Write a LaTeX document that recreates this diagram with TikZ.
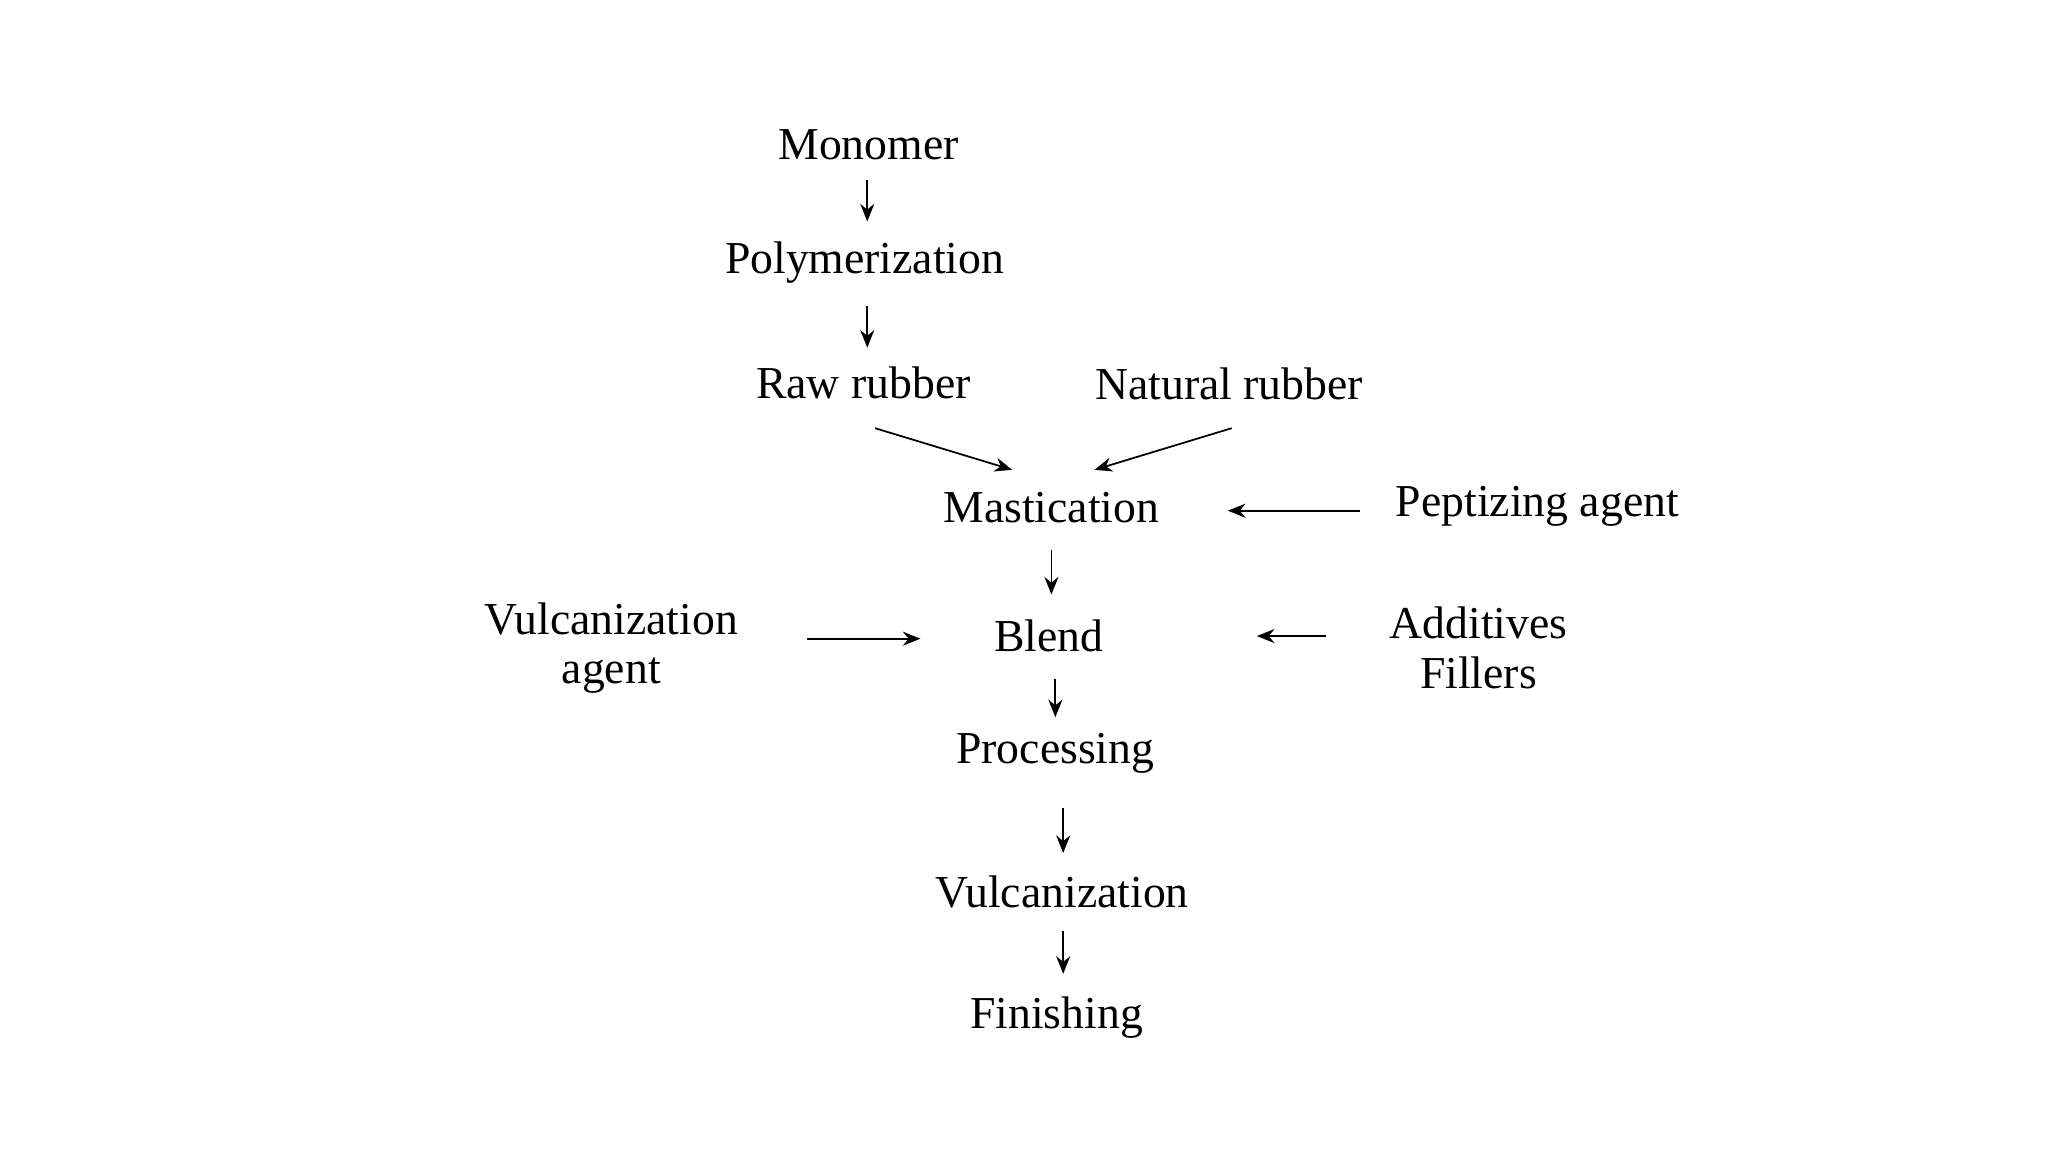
\documentclass[tikz,border=0pt]{standalone}
\usepackage{fontspec}
\setmainfont{Liberation Serif}
\usetikzlibrary{arrows.meta,calc}
\begin{document}
\begin{tikzpicture}[x=0.01306cm,y=-0.01306cm,
  lab/.style={font=\fontsize{13}{14}\selectfont,inner sep=0pt,align=center},
  arr/.style={line width=0.5pt,-{Stealth[length=5pt,width=4pt]}}]
\useasboundingbox (0,0) rectangle (1568,882);
\node[lab] (mono) at (665,111) {Monomer};
\node[lab] (poly) at (662,201) {Polymerization};
\node[lab] (raw) at (661,293) {Raw rubber};
\node[lab] (nat) at (941,294) {Natural rubber};
\node[lab] (mast) at (805,389) {Mastication};
\node[lab] (pep) at (1177,388) {Peptizing agent};
\node[lab] (vag) at (468,496) {Vulcanization\\agent};
\node[lab] (blend) at (803,487) {Blend};
\node[lab] (add) at (1132,496) {Additives\\Fillers};
\node[lab] (proc) at (808,577) {Processing};
\node[lab] (vulc) at (813,683) {Vulcanization};
\node[lab] (fin) at (809,779) {Finishing};
\draw[arr] ($(mono.south)+(-1,15)$) -- ($(poly.north)+(2,-15)$);
\draw[arr] ($(poly.south)+(2,17)$) -- ($(raw.north)+(3,-14)$);
\draw[arr] ($(raw.south)+(9,22)$) -- ($(mast.north)+(-30,-17)$);
\draw[arr] ($(nat.south)+(2,21)$) -- ($(mast.north)+(33,-17)$);
\draw[arr] ($(pep.west)+(-27,3)$) -- ($(mast.east)+(52,2)$);
\draw[arr] ($(mast.south)+(0,20)$) -- ($(blend.north)+(2,-19)$);
\draw[arr] ($(vag.east)+(52,-7)$) -- ($(blend.west)+(-56,2)$);
\draw[arr] ($(add.west)+(-48,-9)$) -- ($(blend.east)+(117,0)$);
\draw[arr] ($(blend.south)+(5,20)$) -- ($(proc.north)+(0,-12)$);
\draw[arr] ($(proc.south)+(6,26)$) -- ($(vulc.north)+(1,-17)$);
\draw[arr] ($(vulc.south)+(1,17)$) -- ($(fin.north)+(5,-17)$);
\end{tikzpicture}
\end{document}
